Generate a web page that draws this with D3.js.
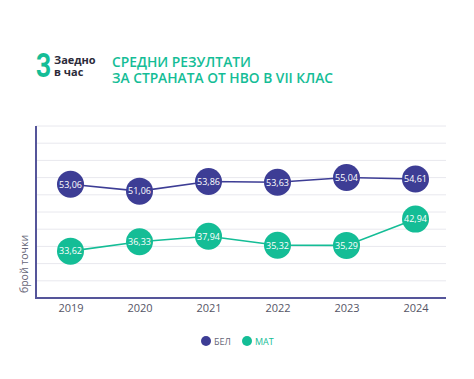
<!DOCTYPE html>
<html>
<head>
<meta charset="utf-8">
<script src="https://cdn.jsdelivr.net/npm/d3@7"></script>
<style>
  body { margin: 0; background: #fff; }
  svg { display: block; font-family: "Open Sans", sans-serif; }
</style>
</head>
<body>
<script>
// ---------------- data ----------------
const years = ["2019", "2020", "2021", "2022", "2023", "2024"];
const bel = [53.06, 51.06, 53.86, 53.63, 55.04, 54.61];
const mat = [33.62, 36.33, 37.94, 35.32, 35.29, 42.94];
const seriesNames = ["БЕЛ", "МАТ"];
const yTicks = [20, 25, 30, 35, 40, 45, 50, 55, 60, 65, 70];

// ---------------- init ----------------
const width = 474, height = 379;
const plotLeft = 36, plotRight = 446, plotTop = 126, plotBottom = 298;
const BLUE = "#3d3d95", TEAL = "#14bd96", AXIS = "#55559a";

const xScale = d3.scalePoint().domain(years).range([plotLeft, 450]).padding(0.5);
const yScale = d3.scaleLinear().domain([20, 70]).range([plotBottom, plotTop]);

const svg = d3.select("body").append("svg")
  .attr("width", width)
  .attr("height", height);

// ---------------- header ----------------
svg.append("text")
  .attr("x", 36).attr("y", 77)
  .attr("font-size", 33).attr("font-weight", 700)
  .attr("fill", TEAL)
  .attr("font-family", "Roboto, sans-serif")
  .attr("textLength", 15).attr("lengthAdjust", "spacingAndGlyphs")
  .text("З");
svg.append("text")
  .attr("x", 54).attr("y", 64)
  .attr("font-size", 11).attr("font-weight", 700)
  .attr("fill", "#2b2b3a")
  .text("Заедно");
svg.append("text")
  .attr("x", 54).attr("y", 76)
  .attr("font-size", 11).attr("font-weight", 700)
  .attr("fill", "#2b2b3a")
  .text("в час");

svg.append("text")
  .attr("x", 112).attr("y", 67)
  .attr("font-size", 15).attr("font-weight", 600)
  .attr("fill", TEAL)
  .attr("textLength", 139).attr("lengthAdjust", "spacingAndGlyphs")
  .text("СРЕДНИ РЕЗУЛТАТИ");
svg.append("text")
  .attr("x", 112).attr("y", 83)
  .attr("font-size", 15).attr("font-weight", 600)
  .attr("fill", TEAL)
  .attr("textLength", 221).attr("lengthAdjust", "spacingAndGlyphs")
  .text("ЗА СТРАНАТА ОТ НВО В VII КЛАС");

// ---------------- grid ----------------
svg.append("g")
  .selectAll("line")
  .data(yTicks.slice(1))
  .join("line")
  .attr("x1", plotLeft).attr("x2", plotRight)
  .attr("y1", d => yScale(d)).attr("y2", d => yScale(d))
  .attr("stroke", "#e8e8ee")
  .attr("stroke-width", 1);

// axes lines
svg.append("path")
  .attr("d", `M ${plotLeft} ${plotTop} L ${plotLeft} ${plotBottom} L ${plotRight} ${plotBottom}`)
  .attr("fill", "none")
  .attr("stroke", AXIS)
  .attr("stroke-width", 2);

// x axis labels
const xAxis = d3.axisBottom(xScale).tickSize(0).tickPadding(6);
const gx = svg.append("g")
  .attr("transform", `translate(0,${plotBottom})`)
  .call(xAxis);
gx.select(".domain").remove();
gx.selectAll("text")
  .attr("font-size", 11)
  .attr("font-family", "Open Sans, sans-serif")
  .attr("fill", "#555566");

// y label
svg.append("text")
  .attr("transform", `translate(28,264) rotate(-90)`)
  .attr("text-anchor", "middle")
  .attr("font-size", 10.5)
  .attr("fill", "#666677")
  .text("брой точки");

// ---------------- series ----------------
const series = [
  { name: seriesNames[0], values: bel, color: BLUE },
  { name: seriesNames[1], values: mat, color: TEAL }
];

const line = d3.line()
  .x((d, i) => xScale(years[i]))
  .y(d => yScale(d));

series.forEach(function (s) {
  svg.append("path")
    .attr("d", line(s.values))
    .attr("fill", "none")
    .attr("stroke", s.color)
    .attr("stroke-width", 1.6);

  const g = svg.append("g");
  g.selectAll("circle")
    .data(s.values)
    .join("circle")
    .attr("cx", (d, i) => xScale(years[i]))
    .attr("cy", d => yScale(d))
    .attr("r", 13.5)
    .attr("fill", s.color);
  g.selectAll("text")
    .data(s.values)
    .join("text")
    .attr("x", (d, i) => xScale(years[i]))
    .attr("y", d => yScale(d) + 3.3)
    .attr("text-anchor", "middle")
    .attr("font-size", 9)
    .attr("fill", "#fff")
    .text(d => d.toFixed(2).replace(".", ","));
});

// ---------------- legend ----------------
const legend = [
  { name: seriesNames[0], color: BLUE, text: "#666677", x: 206 },
  { name: seriesNames[1], color: TEAL, text: TEAL, x: 247 }
];
legend.forEach(function (l) {
  svg.append("circle")
    .attr("cx", l.x).attr("cy", 341)
    .attr("r", 5)
    .attr("fill", l.color);
  svg.append("text")
    .attr("x", l.x + 8).attr("y", 344.5)
    .attr("font-size", 9)
    .attr("fill", l.text)
    .text(l.name);
});
</script>
</body>
</html>
